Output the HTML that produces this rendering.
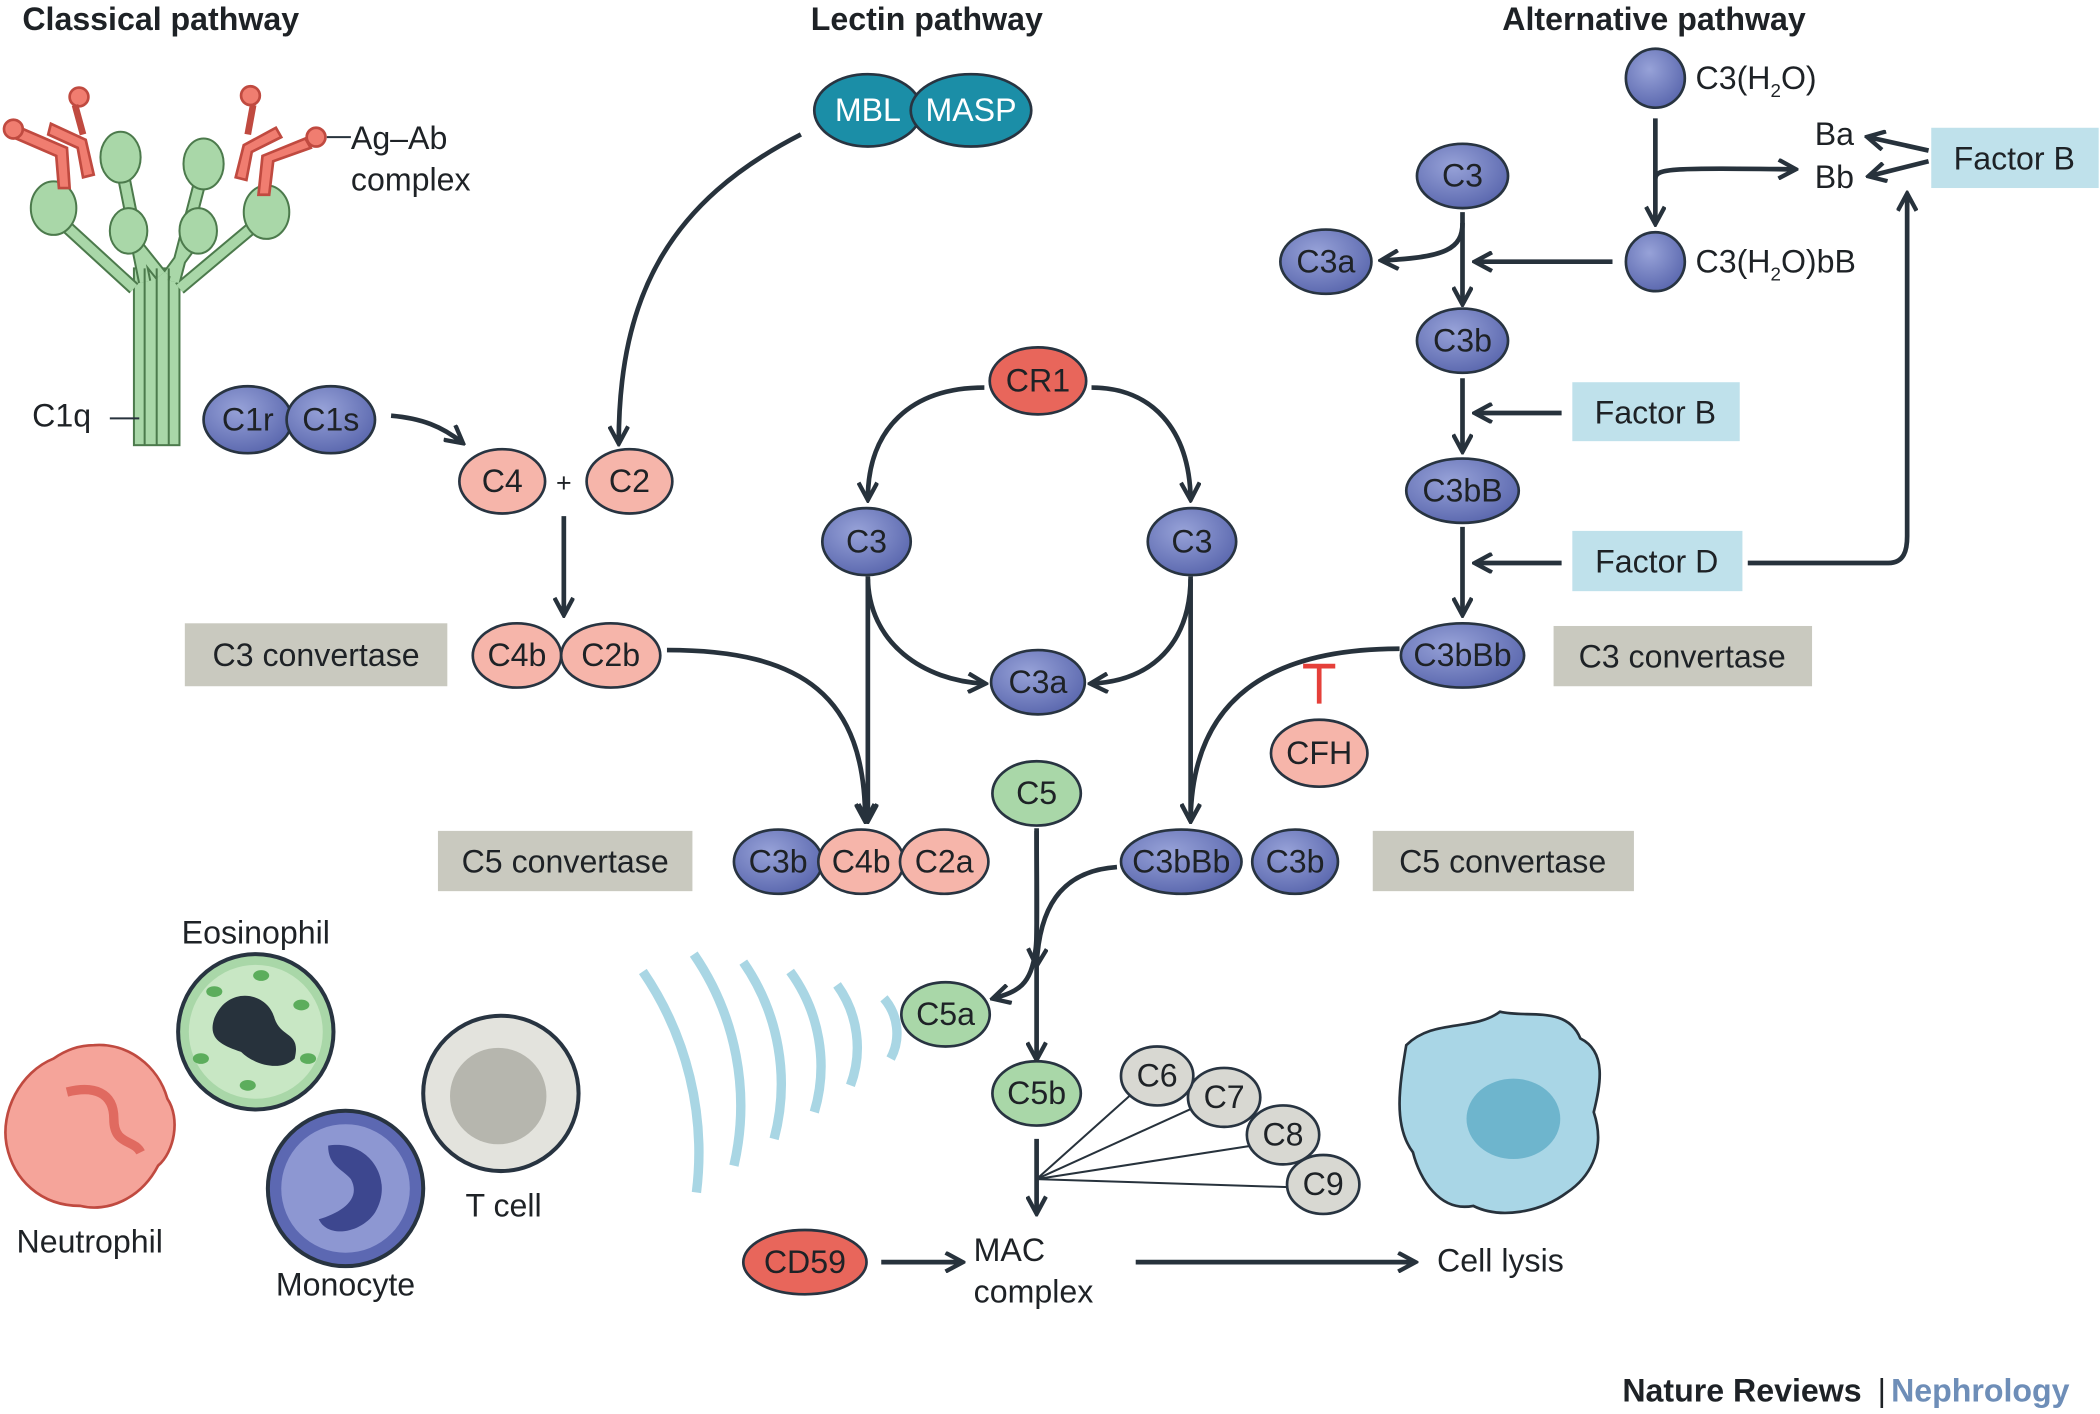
<!DOCTYPE html>
<html><head><meta charset="utf-8"><style>
html,body{margin:0;padding:0;background:#fff;width:2100px;height:1414px;overflow:hidden}
svg{display:block}
text{font-family:"Liberation Sans",sans-serif;fill:#1e2226}
</style></head><body>
<svg width="2100" height="1414" viewBox="0 0 1568 1055" xmlns="http://www.w3.org/2000/svg">
<defs>
<marker id="ah" markerWidth="8" markerHeight="8" refX="6" refY="4" orient="auto" markerUnits="userSpaceOnUse" viewBox="0 0 8 8"><path d="M0,0 L8,4 L0,8 L2,4 Z" fill="#27323c"/></marker>
<marker id="a2" markerWidth="16" markerHeight="16" refX="13" refY="8" orient="auto" markerUnits="userSpaceOnUse"><path d="M1,1 L14,8 L1,15" fill="none" stroke="#27323c" stroke-width="3.2"/></marker>
<radialGradient id="bl" cx="0.4" cy="0.35" r="0.7"><stop offset="0" stop-color="#97a2d8"/><stop offset="1" stop-color="#5966ad"/></radialGradient>
</defs>
<style>
.b{fill:url(#bl);stroke:#283441;stroke-width:2}
.p{fill:#f6b5aa;stroke:#283441;stroke-width:2}
.r{fill:#e8665b;stroke:#283441;stroke-width:2}
.g{fill:#a9d7a8;stroke:#283441;stroke-width:2}
.y{fill:#d8d8d2;stroke:#283441;stroke-width:2}
.ln{fill:none;stroke:#27323c;stroke-width:3.5;marker-end:url(#a2)}
.t{font-size:24px;text-anchor:middle}
.h{font-size:24px;font-weight:bold;text-anchor:middle}
</style>

<text x="120" y="22" class="h">Classical pathway</text>
<text x="692" y="22" class="h">Lectin pathway</text>
<text x="1235" y="22" class="h">Alternative pathway</text>

<!-- C1q -->
<g stroke="#4c7a4c" stroke-width="1.5" fill="#a9d7a8">
<rect x="100" y="200" width="34" height="132"/>
<path d="M100,215 L40,160 M108,210 L90,120 M120,205 L96,175 M126,205 L148,175 M130,210 L152,125 M134,215 L196,163" stroke="#4c7a4c" stroke-width="10" fill="none"/>
<path d="M100,215 L40,160 M108,210 L90,120 M120,205 L96,175 M126,205 L148,175 M130,210 L152,125 M134,215 L196,163" stroke="#a9d7a8" stroke-width="7" fill="none"/>
<ellipse cx="40" cy="155" rx="17" ry="20"/><ellipse cx="90" cy="117" rx="15" ry="19"/><ellipse cx="96" cy="172" rx="14" ry="17"/>
<ellipse cx="148" cy="172" rx="14" ry="17"/><ellipse cx="152" cy="122" rx="15" ry="19"/><ellipse cx="199" cy="158" rx="17" ry="20"/>
<line x1="108" y1="200" x2="108" y2="332"/><line x1="117" y1="200" x2="117" y2="332"/><line x1="126" y1="200" x2="126" y2="332"/>
</g>
<g stroke="#c04a40" stroke-width="2" fill="#f07d70">
<path d="M15,95 L50,110 L52,140 L44,140 L42,116 L12,103Z"/><path d="M38,92 L64,104 L70,130 L62,132 L58,110 L36,100Z"/>
<circle cx="10" cy="96" r="7"/><circle cx="59" cy="72" r="7"/><path d="M56,78 L62,100" stroke-width="5"/>
<path d="M228,103 L196,116 L193,145 L201,145 L204,120 L232,110Z"/><path d="M206,95 L182,108 L176,132 L184,134 L188,113 L210,102Z"/>
<circle cx="236" cy="102" r="7"/><circle cx="187" cy="71" r="7"/><path d="M189,78 L185,100" stroke-width="5"/>
</g>
<line x1="244" y1="102" x2="262" y2="102" stroke="#27323c" stroke-width="1.5"/>
<text x="262" y="111" font-size="24px">Ag–Ab</text><text x="262" y="142" font-size="24px">complex</text>
<text x="24" y="318" font-size="24px">C1q</text><line x1="82" y1="312" x2="104" y2="312" stroke="#27323c" stroke-width="1.5"/>

<!-- MBL MASP -->
<ellipse cx="648" cy="82" rx="40" ry="27" fill="#1b8ea7" stroke="#283441" stroke-width="2"/>
<ellipse cx="725" cy="82" rx="45" ry="27" fill="#1b8ea7" stroke="#283441" stroke-width="2"/>
<text x="648" y="90" class="t" style="fill:#fff">MBL</text><text x="725" y="90" class="t" style="fill:#fff">MASP</text>

<!-- classical nodes -->
<ellipse cx="185" cy="313" rx="33" ry="25" class="b"/><ellipse cx="247" cy="313" rx="33" ry="25" class="b"/>
<text x="185" y="321" class="t">C1r</text><text x="247" y="321" class="t">C1s</text>
<ellipse cx="375" cy="359" rx="32" ry="24" class="p"/><ellipse cx="470" cy="359" rx="32" ry="24" class="p"/>
<text x="375" y="367" class="t">C4</text><text x="470" y="367" class="t">C2</text><text x="421" y="367" class="t" style="font-size:20px">+</text>
<ellipse cx="386" cy="489" rx="33" ry="24" class="p"/><ellipse cx="456" cy="489" rx="37" ry="24" class="p"/>
<text x="386" y="497" class="t">C4b</text><text x="456" y="497" class="t">C2b</text>
<rect x="138" y="465" width="196" height="47" fill="#c9c9bf"/><text x="236" y="497" class="t">C3 convertase</text>

<!-- central -->
<ellipse cx="775" cy="284" rx="36" ry="25" class="r"/><text x="775" y="292" class="t">CR1</text>
<ellipse cx="647" cy="404" rx="33" ry="25" class="b"/><text x="647" y="412" class="t">C3</text>
<ellipse cx="890" cy="404" rx="33" ry="25" class="b"/><text x="890" y="412" class="t">C3</text>
<ellipse cx="775" cy="509" rx="35" ry="24" class="b"/><text x="775" y="517" class="t">C3a</text>
<ellipse cx="581" cy="643" rx="33" ry="24" class="b"/><ellipse cx="643" cy="643" rx="32" ry="24" class="p"/><ellipse cx="705" cy="643" rx="33" ry="24" class="p"/>
<text x="581" y="651" class="t">C3b</text><text x="643" y="651" class="t">C4b</text><text x="705" y="651" class="t">C2a</text>
<rect x="327" y="620" width="190" height="45" fill="#c9c9bf"/><text x="422" y="651" class="t">C5 convertase</text>
<ellipse cx="882" cy="643" rx="45" ry="24" class="b"/><ellipse cx="967" cy="643" rx="32" ry="24" class="b"/>
<text x="882" y="651" class="t">C3bBb</text><text x="967" y="651" class="t">C3b</text>
<rect x="1025" y="620" width="195" height="45" fill="#c9c9bf"/><text x="1122" y="651" class="t">C5 convertase</text>
<ellipse cx="774" cy="592" rx="33" ry="24" class="g"/><text x="774" y="600" class="t">C5</text>
<ellipse cx="706" cy="757" rx="33" ry="24" class="g"/><text x="706" y="765" class="t">C5a</text>
<ellipse cx="774" cy="816" rx="33" ry="24" class="g"/><text x="774" y="824" class="t">C5b</text>
<g stroke="#27323c" stroke-width="1.5">
<line x1="774" y1="880" x2="850" y2="812"/><line x1="774" y1="880" x2="895" y2="825"/><line x1="774" y1="880" x2="935" y2="855"/><line x1="774" y1="880" x2="962" y2="886"/></g>
<ellipse cx="988" cy="884" rx="27" ry="22" class="y"/><text x="988" y="892" class="t">C9</text>
<ellipse cx="958" cy="847" rx="27" ry="22" class="y"/><text x="958" y="855" class="t">C8</text>
<ellipse cx="914" cy="819" rx="27" ry="22" class="y"/><text x="914" y="827" class="t">C7</text>
<ellipse cx="864" cy="803" rx="27" ry="22" class="y"/><text x="864" y="811" class="t">C6</text>
<ellipse cx="601" cy="942" rx="46" ry="24" class="r"/><text x="601" y="950" class="t">CD59</text>
<text x="727" y="941" font-size="24px">MAC</text><text x="727" y="972" font-size="24px">complex</text>
<text x="1073" y="949" font-size="24px">Cell lysis</text>

<!-- alternative -->
<circle cx="1236" cy="58" r="22" class="b"/><text x="1266" y="66" font-size="24px">C3(H<tspan font-size="14" dy="6">2</tspan><tspan dy="-6">O)</tspan></text>
<circle cx="1236" cy="195" r="22" class="b"/><text x="1266" y="203" font-size="24px">C3(H<tspan font-size="14" dy="6">2</tspan><tspan dy="-6">O)bB</tspan></text>
<text x="1355" y="108" font-size="24px">Ba</text><text x="1355" y="140" font-size="24px">Bb</text>
<rect x="1442" y="95" width="125" height="45" fill="#bfe1eb"/><text x="1504" y="126" class="t">Factor B</text>
<ellipse cx="1092" cy="131" rx="34" ry="24" class="b"/><text x="1092" y="139" class="t">C3</text>
<ellipse cx="990" cy="195" rx="34" ry="24" class="b"/><text x="990" y="203" class="t">C3a</text>
<ellipse cx="1092" cy="254" rx="34" ry="24" class="b"/><text x="1092" y="262" class="t">C3b</text>
<ellipse cx="1092" cy="366" rx="42" ry="24" class="b"/><text x="1092" y="374" class="t">C3bB</text>
<ellipse cx="1092" cy="489" rx="46" ry="24" class="b"/><text x="1092" y="497" class="t">C3bBb</text>
<rect x="1174" y="285" width="125" height="44" fill="#bfe1eb"/><text x="1236" y="316" class="t">Factor B</text>
<rect x="1174" y="396" width="127" height="45" fill="#bfe1eb"/><text x="1237" y="427" class="t">Factor D</text>
<rect x="1160" y="467" width="193" height="45" fill="#c9c9bf"/><text x="1256" y="498" class="t">C3 convertase</text>
<ellipse cx="985" cy="562" rx="36" ry="25" class="p"/><text x="985" y="570" class="t">CFH</text>
<path d="M985,525 L985,497 M973,497 L997,497" stroke="#e5403a" stroke-width="3.5" fill="none"/>

<!-- arrows -->
<path class="ln" d="M598,100 C500,150 462,220 462,330"/>
<path class="ln" d="M292,310 C315,312 330,318 345,330"/>
<path class="ln" d="M421,385 L421,458"/>
<path class="ln" d="M735,289 C680,289 648,320 648,372"/>
<path class="ln" d="M815,289 C860,289 888,320 889,372"/>
<path class="ln" d="M648,430 C648,480 690,508 735,510"/>
<path class="ln" d="M889,430 C889,480 860,508 815,510"/>
<path class="ln" d="M498,485 C600,485 646,520 646,612"/>
<path class="ln" d="M648,432 L648,612"/>
<path class="ln" d="M889,432 L889,612"/>
<path class="ln" d="M1045,484 C950,484 890,520 889,612"/>
<path class="ln" d="M774,618 L774,790"/>
<path class="ln" d="M774,620 C774,660 775,700 773,710 C770,735 760,740 742,745"/>
<path class="ln" d="M834,647 C790,650 776,680 774,720"/>
<path class="ln" d="M774,850 L774,905"/>
<path class="ln" d="M658,942 L718,942"/>
<path class="ln" d="M848,942 L1056,942"/>
<path class="ln" d="M1236,88 L1236,166"/>
<path class="ln" d="M1236,133 C1236,125 1250,125 1340,126"/>
<path class="ln" d="M1092,158 L1092,226"/>
<path class="ln" d="M1092,166 C1092,185 1080,192 1032,194"/>
<path class="ln" d="M1204,195 L1102,195"/>
<path class="ln" d="M1092,282 L1092,336"/>
<path class="ln" d="M1166,308 L1102,308"/>
<path class="ln" d="M1092,393 L1092,458"/>
<path class="ln" d="M1166,420 L1102,420"/>
<path class="ln" d="M1440,112 L1395,102"/>
<path class="ln" d="M1440,120 L1396,131"/>
<path class="ln" d="M1305,420 L1410,420 C1422,420 1424,410 1424,400 L1424,145"/>

<!-- waves -->
<g fill="none" stroke="#a9d6e4" stroke-width="7">
<path d="M660,745 A40,40 0 0 1 665,790"/>
<path d="M625,735 A80,80 0 0 1 635,810"/>
<path d="M590,725 A120,120 0 0 1 608,830"/>
<path d="M555,718 A160,160 0 0 1 578,850"/>
<path d="M518,712 A200,200 0 0 1 548,870"/>
<path d="M480,725 A240,240 0 0 1 520,890"/>
</g>

<!-- cells -->
<circle cx="191" cy="770" r="58" fill="#a9d7a8" stroke="#283441" stroke-width="3"/>
<circle cx="191" cy="770" r="50" fill="#c8e7c4"/>
<g fill="#5cad5c"><ellipse cx="160" cy="740" rx="6" ry="4"/><ellipse cx="225" cy="750" rx="6" ry="4"/><ellipse cx="230" cy="790" rx="6" ry="4"/><ellipse cx="185" cy="810" rx="6" ry="4"/><ellipse cx="150" cy="790" rx="6" ry="4"/><ellipse cx="195" cy="728" rx="6" ry="4"/></g>
<path d="M160,760 C170,735 200,740 205,760 C210,775 225,770 220,790 C210,800 190,795 180,785 C165,780 155,775 160,760Z" fill="#27323c"/>
<path d="M70,780 C95,778 118,795 125,820 C135,835 130,860 118,870 C105,895 80,905 60,900 C30,900 10,880 5,855 C0,830 15,800 40,790 C50,783 60,780 70,780Z" fill="#f5a49a" stroke="#c04a40" stroke-width="2"/>
<path d="M50,815 C70,810 85,815 85,835 C85,855 100,850 105,860" fill="none" stroke="#e06a60" stroke-width="7"/>
<circle cx="258" cy="887" r="58" fill="#5c68b2" stroke="#283441" stroke-width="3"/>
<circle cx="258" cy="887" r="48" fill="#8d97d2"/>
<path d="M245,855 C275,850 295,880 280,905 C270,920 245,925 238,910 C255,905 270,895 262,880 C255,872 245,870 245,855Z" fill="#3d478f"/>
<circle cx="374" cy="816" r="58" fill="#e3e3dd" stroke="#283441" stroke-width="3"/>
<circle cx="372" cy="818" r="36" fill="#b6b6ae"/>
<text x="191" y="704" class="t">Eosinophil</text>
<text x="67" y="935" class="t">Neutrophil</text>
<text x="258" y="967" class="t">Monocyte</text>
<text x="376" y="908" class="t">T cell</text>

<!-- lysis cell -->
<path d="M1050,780 C1070,760 1100,770 1120,755 C1140,760 1170,750 1180,775 C1200,785 1195,810 1190,830 C1200,860 1185,880 1170,890 C1150,905 1120,910 1100,900 C1075,905 1060,880 1055,860 C1040,840 1045,810 1050,780Z" fill="#a9d6e6" stroke="#27323c" stroke-width="2"/>
<ellipse cx="1130" cy="835" rx="35" ry="30" fill="#6eb5cd"/>

<text x="1390" y="1046" font-size="24px" font-weight="bold" text-anchor="end">Nature Reviews</text>
<text x="1402" y="1046" font-size="24px">|</text>
<text x="1412" y="1046" font-size="24px" font-weight="bold" style="fill:#6e8eb8">Nephrology</text>
</svg>
</body></html>
